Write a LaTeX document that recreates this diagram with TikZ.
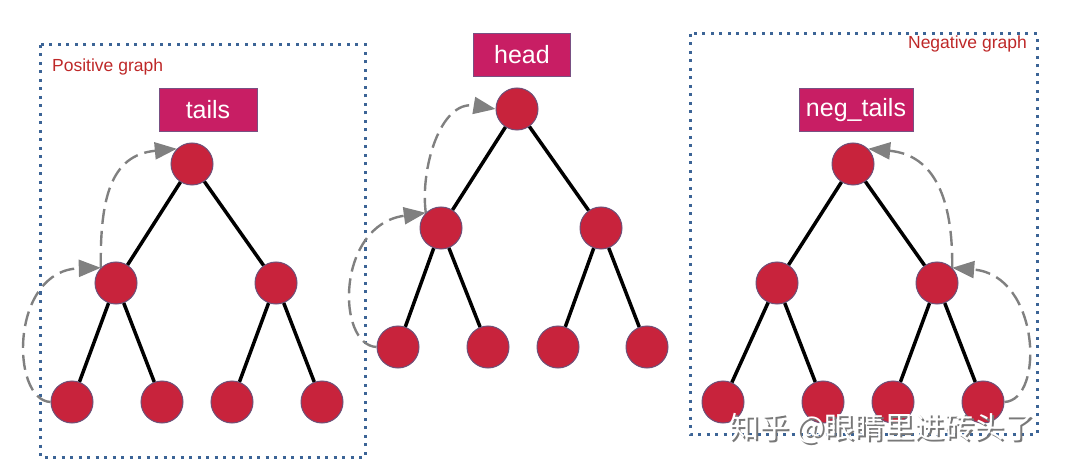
\documentclass[tikz,border=0pt]{standalone}
\usepackage{fontspec}
\setmainfont{Liberation Sans}
\newfontfamily\cjk{Noto Sans CJK SC}
\usetikzlibrary{arrows.meta}
\begin{document}
\begin{tikzpicture}[x=1pt,y=-1pt,
  nd/.style={circle,fill={rgb,255:red,200;green,35;blue,60},draw={rgb,255:red,110;green,80;blue,120},line width=1pt,minimum size=42pt,inner sep=0},
  lbl/.style={fill={rgb,255:red,200;green,30;blue,100},draw={rgb,255:red,120;green,80;blue,130},text=white,font=\fontsize{25}{25}\selectfont,inner sep=0,minimum height=43pt},
  ed/.style={line width=3.5pt,black},
  da/.style={gray,line width=2.4pt,dash pattern=on 15pt off 7pt,-{Triangle[length=22pt,width=17pt]}},
  frame/.style={draw={rgb,255:red,60;green,100;blue,150},line width=3pt,dash pattern=on 3pt off 5.5pt},
  gt/.style={text={rgb,255:red,190;green,40;blue,40},font=\fontsize{17.5}{17.5}\selectfont,inner sep=0}]
\useasboundingbox (0,0) rectangle (1074,473);
\draw[frame] (40,45) rectangle (365,457);
\draw[frame] (690,34) rectangle (1037,434);
\node[gt,anchor=west] (pg) at (52,67) {Positive graph};
\node[gt,anchor=east] (ng) at (1027,44) {Negative graph};
\node[lbl,minimum width=98pt] (tl) at (208,110) {tails};
\node[lbl,minimum width=97pt] (hd) at (522,55) {head};
\node[lbl,minimum width=114pt] (nt) at (856,110) {neg\_tails};
% left
\node[nd] (a) at (192,164) {}; \node[nd] (a1) at (116,283) {}; \node[nd] (a2) at (276,283) {};
\node[nd] (a11) at (72,402) {}; \node[nd] (a12) at (162,402) {}; \node[nd] (a21) at (232,402) {}; \node[nd] (a22) at (322,402) {};
% middle
\node[nd] (b) at (517,109) {}; \node[nd] (b1) at (441,228) {}; \node[nd] (b2) at (601,228) {};
\node[nd] (b11) at (398,347) {}; \node[nd] (b12) at (488,347) {}; \node[nd] (b21) at (558,347) {}; \node[nd] (b22) at (647,347) {};
% right
\node[nd] (c) at (853,164) {}; \node[nd] (c1) at (777,283) {}; \node[nd] (c2) at (937,283) {};
\node[nd] (c11) at (723,402) {}; \node[nd] (c12) at (823,402) {}; \node[nd] (c21) at (893,402) {}; \node[nd] (c22) at (983,402) {};
\foreach \r in {a,b,c}{
 \draw[ed] (\r) -- (\r1); \draw[ed] (\r) -- (\r2);
 \draw[ed] (\r1) -- (\r11); \draw[ed] (\r1) -- (\r12);
 \draw[ed] (\r2) -- (\r21); \draw[ed] (\r2) -- (\r22);}
\draw[da] (a11.west) .. controls (10,400) and (10,270) .. (a1.north west);
\draw[da] (a1.north west) .. controls (100,200) and (110,155) .. (a.north west);
\draw[da] (b11.west) .. controls (336,345) and (336,225) .. (b1.north west);
\draw[da] (b1.north west) .. controls (420,170) and (440,100) .. (b.west);
\draw[da] (c22.east) .. controls (1045,400) and (1040,275) .. (c2.north east);
\draw[da] (c2.north east) .. controls (953,200) and (935,155) .. (c.north east);
\node[text={rgb,255:red,120;green,120;blue,120},font=\cjk\fontsize{30}{30}\selectfont,inner sep=0] (wm0) at (884,430) {知乎 @眼睛里进砖头了};
\node[text=white,font=\cjk\fontsize{30}{30}\selectfont,inner sep=0] (wm) at (882,428) {知乎 @眼睛里进砖头了};
\end{tikzpicture}
\end{document}
